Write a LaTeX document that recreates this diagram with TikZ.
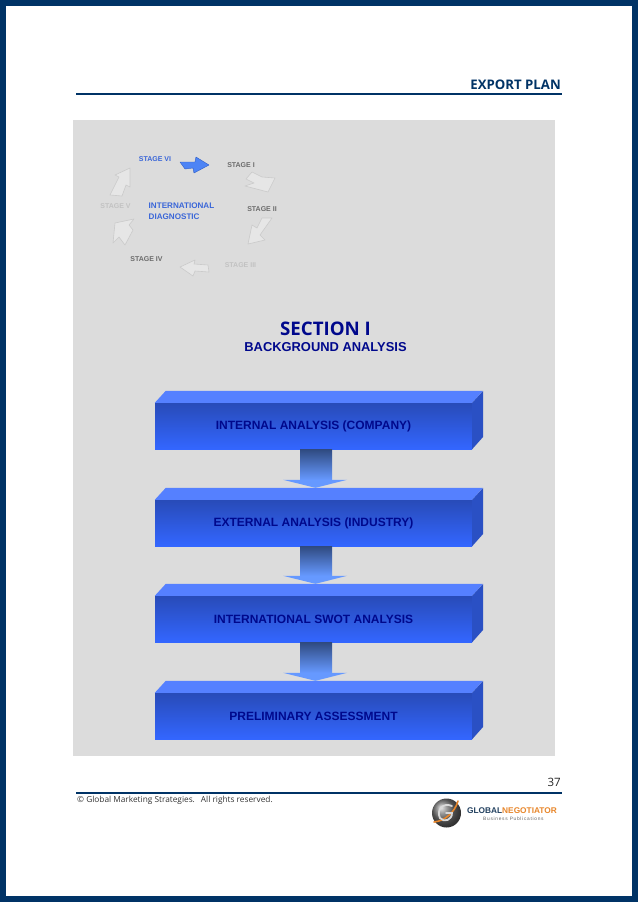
\documentclass[tikz,border=0pt]{standalone}
\usepackage{fontspec}
\setmainfont{Liberation Sans}
\newfontfamily\tah{Open Sans}
\usetikzlibrary{calc,fadings}
\definecolor{navy}{HTML}{003366}
\definecolor{panel}{HTML}{DCDCDC}
\definecolor{boxtext}{HTML}{00088C}
\definecolor{stageblue}{HTML}{3A66D8}
\definecolor{lightarrow}{HTML}{E6E6E6}
\definecolor{arrowedge}{HTML}{CACACA}
\definecolor{topface}{HTML}{5580FF}
\definecolor{sideface}{HTML}{2A50C4}
\definecolor{logoorange}{HTML}{E8862A}
\definecolor{logonavy}{HTML}{22405F}
\definecolor{frontdark}{HTML}{284BB8}
\definecolor{frontlight}{HTML}{3366FF}
\definecolor{flowtop}{HTML}{2F4A80}
\definecolor{flowbot}{HTML}{6699FF}
\definecolor{stagearrow}{HTML}{4D84F5}
\definecolor{stagearrowedge}{HTML}{2F5FC8}
\tikzset{
  x=1pt,y=-1pt,
  front/.style={minimum width=317pt,minimum height=46pt,inner sep=0pt,top color=frontdark,bottom color=frontlight,
    font=\bfseries\fontsize{12}{14}\selectfont,text=boxtext},
  stagelabel/.style={font=\bfseries\fontsize{7}{9}\selectfont,inner sep=0pt},
  cyclearrow/.style={fill=lightarrow,draw=arrowedge,line width=.6pt,line join=round},
  rule/.style={draw=navy,line width=2.4pt},
}
\newcommand{\boxfaces}[1]{%
  \fill[topface] (#1.north west) -- ++(11,-12) -- ++(317,0) -- (#1.north east) -- cycle;
  \fill[sideface] (#1.north east) -- ++(11,-12) -- ++(0,46) -- (#1.south east) -- cycle;
}
\newcommand{\flowarrow}[2]{%
  \shade[top color=flowtop,bottom color=flowbot] ($(#1.south)+(-13.5,0)$) rectangle ($(#2.north)+(18.5,-20)$);
  \fill[flowbot] ($(#2.north)+(-30.5,-20)$) -- ($(#2.north)+(33.5,-20)$) -- ($(#2.north)+(2,-12)$) -- cycle;
}
\begin{document}
\begin{tikzpicture}
\useasboundingbox (0,0) rectangle (638,902);
\fill[white] (0,0) rectangle (638,902);
% page frame
\draw[navy,line width=6pt] (3,3) rectangle (635,899);
% header
\node[anchor=east,inner sep=0pt,text=navy,font=\tah\bfseries\fontsize{13.2}{15}\selectfont] (title) at (561,85) {EXPORT PLAN};
\coordinate (hl) at (76,94); \coordinate (hr) at (562,94);
\draw[rule] (hl) -- (hr);
% panel
\fill[panel] (73,120) rectangle (555,756);
% cycle arrows
\fill[cyclearrow] (252,172) -- (262,177) -- (275,178) -- (268,192) -- (245,186) -- (254,183) -- (246,179) -- cycle;
\fill[cyclearrow] (272,218) -- (262,218) -- (257,228) -- (252,225) -- (248,244) -- (265,240) -- (260,235) -- cycle;
\fill[cyclearrow] (180,267) -- (195,260) -- (194,264) -- (208,265) -- (209,272) -- (195,271) -- (193,276) -- cycle;
\fill[cyclearrow] (115,223) -- (134,219) -- (129,225) -- (133,230) -- (125,245) -- (119,237) -- (113,243) -- cycle;
\fill[cyclearrow] (130,168) -- (115,175) -- (119,177) -- (110,195) -- (122,196) -- (126,185) -- (130,187) -- cycle;
\fill[fill=stagearrow,draw=stagearrowedge,line width=.4pt,line join=round] (180,162) -- (195,162) -- (196,157) -- (209,165) -- (194,173) -- (193,168) -- (185,169) -- cycle;
% stage labels
\node[stagelabel,text=stageblue] (s6) at (155,159.5) {STAGE VI};
\node[stagelabel,text=black!58] (s1) at (241,165) {STAGE I};
\node[stagelabel,text=black!58] (s2) at (262,209.5) {STAGE II};
\node[stagelabel,text=black!24] (s3) at (240.5,265.5) {STAGE III};
\node[stagelabel,text=black!58] (s4) at (146.5,259.5) {STAGE IV};
\node[stagelabel,text=black!24] (s5) at (115.5,206.5) {STAGE V};
\node[anchor=north west,align=left,inner sep=0pt,text=stageblue,font=\bfseries\fontsize{8.1}{10.5}\selectfont] (diag) at (148.5,203) {INTERNATIONAL\\DIAGNOSTIC};
% headings
\node[inner sep=0pt,text=boxtext,font=\tah\bfseries\fontsize{18.7}{21}\selectfont] (sec) at (325.5,329) {SECTION I};
\node[inner sep=0pt,text=boxtext,font=\bfseries\fontsize{12.9}{15}\selectfont] (bg) at (325.5,347) {BACKGROUND ANALYSIS};
% boxes
\node[front] (b1) at (313.5,426) {INTERNAL ANALYSIS (COMPANY)};
\node[front] (b2) at (313.5,523) {EXTERNAL ANALYSIS (INDUSTRY)};
\node[front] (b3) at (313.5,619) {INTERNATIONAL SWOT ANALYSIS};
\node[front] (b4) at (313.5,716) {PRELIMINARY ASSESSMENT};
\boxfaces{b1}\boxfaces{b2}\boxfaces{b3}\boxfaces{b4}
\flowarrow{b1}{b2}\flowarrow{b2}{b3}\flowarrow{b3}{b4}
% footer
\node[anchor=east,inner sep=0pt,text=black!85,font=\tah\fontsize{11.5}{13}\selectfont] (page) at (561,782) {37};
\coordinate (fl) at (76,793); \coordinate (fr) at (562,793);
\draw[rule] (fl) -- (fr);
\node[anchor=west,inner sep=0pt,text=black!80,font=\tah\fontsize{8.3}{11}\selectfont] (copy) at (77,800.5) {© Global Marketing Strategies.\hspace{6pt}All rights reserved.};
% logo
\shade[ball color=black!55] (446.5,813) circle (14.5);
\draw[logoorange,line width=1.6pt,line cap=round] (434,822) .. controls (445,821) and (455,812) .. (458,801);
\draw[white!85!black,line width=1.8pt,line cap=round] (452,806) .. controls (443,802) and (436,810) .. (440,818) .. controls (444,823) and (452,820) .. (452,813) -- (446,813);
\node[anchor=west,inner sep=0pt,font=\bfseries\fontsize{8.3}{10}\selectfont] (logot) at (467,811) {\textcolor{logonavy}{GLOBAL}\textcolor{logoorange}{NEGOTIATOR}};
\node[anchor=west,inner sep=0pt,text=black!60,font=\addfontfeature{LetterSpace=15}\fontsize{4.8}{6}\selectfont] (logos) at (483,818.5) {Business Publications};
\end{tikzpicture}
\end{document}
